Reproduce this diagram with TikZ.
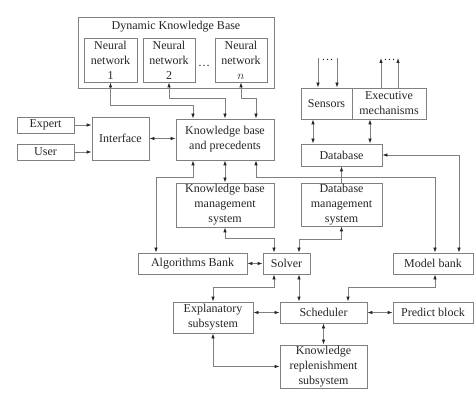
\documentclass[tikz,border=0pt]{standalone}
\usepackage{fontspec}
\setmainfont{Liberation Serif}
\usetikzlibrary{arrows.meta,positioning}
\definecolor{linegray}{RGB}{128,128,128}
\tikzset{
  block/.style={draw=linegray, line width=0.8pt, fill=white, align=center, inner sep=0pt,
    text=black!85, font=\fontsize{12}{15}\selectfont},
  link/.style={draw=linegray, line width=0.8pt},
}

\begin{document}
\begin{tikzpicture}[x=1pt,y=-1pt,>={Latex[length=5pt,width=3.5pt,color=black!85]}]
\useasboundingbox (0,0) rectangle (474,406);
% dynamic knowledge base
\node[block, minimum width=196pt, minimum height=71pt] (dkb) at (176,52.5) {};
\node[block, draw=none, fill=none] (dkbtitle) at (176,27) {Dynamic Knowledge Base};
\node[block, minimum width=53pt, minimum height=44pt] (nn1) at (110.5,60) {Neural\\network\\1};
\node[block, minimum width=52pt, minimum height=44pt] (nn2) at (169,60) {Neural\\network\\2};
\node[block, minimum width=52pt, minimum height=44pt] (nnn) at (241,60) {Neural\\network\\$n$};
\node[block, draw=none, fill=none] (nndots) at (204,66) {\ldots};
% left part
\node[block, minimum width=57pt, minimum height=16pt] (expert) at (45.5,125) {Expert};
\node[block, minimum width=57pt, minimum height=16pt] (user) at (45.5,152) {User};
\node[block, minimum width=57pt, minimum height=43pt] (interface) at (120.5,138.5) {Interface};
\node[block, minimum width=98pt, minimum height=41pt] (kbp) at (225,139.5) {Knowledge base\\and precedents};
\node[block, minimum width=98pt, minimum height=44pt] (kbms) at (225,205) {Knowledge base\\management\\system};
% right part
\node[block, minimum width=51pt, minimum height=31pt] (sensors) at (326.5,103.5) {Sensors};
\node[block, minimum width=74pt, minimum height=31pt] (exec) at (389,103.5) {Executive\\mechanisms};
\node[block, minimum width=81pt, minimum height=22pt] (db) at (341.5,155) {Database};
\node[block, minimum width=81pt, minimum height=43pt] (dbms) at (341.5,204.5) {Database\\management\\system};
% lower part
\node[block, minimum width=109pt, minimum height=21pt] (ab) at (192.5,263.5) {Algorithms Bank};
\node[block, minimum width=47pt, minimum height=21pt] (solver) at (286.5,263.5) {Solver};
\node[block, minimum width=80pt, minimum height=21pt] (mb) at (433,263.5) {Model bank};
\node[block, minimum width=80pt, minimum height=31pt] (expl) at (213,317.5) {Explanatory\\subsystem};
\node[block, minimum width=87pt, minimum height=21pt] (sched) at (323.5,312.5) {Scheduler};
\node[block, minimum width=80pt, minimum height=21pt] (pb) at (433,312.5) {Predict block};
\node[block, minimum width=87pt, minimum height=43pt] (krs) at (323.5,366.5) {Knowledge\\replenishment\\subsystem};
% sensor inputs and executive outputs
\coordinate (sin1) at (318,58);
\coordinate (sin2) at (337,58);
\coordinate (eout1) at (381,58);
\coordinate (eout2) at (398,58);
\node[block, draw=none, fill=none] (sdots) at (327.5,60) {\ldots};
\node[block, draw=none, fill=none] (edots) at (389.5,60) {\ldots};

% connectors
\draw[link,<->] (nn1.south) -- ++(0,23) -| ([xshift=-32pt]kbp.north);
\draw[link,<->] (nn2.south) -- ++(0,16) -| (kbp.north);
\draw[link,<->] (nnn.south) -- ++(0,16) -| ([xshift=31pt]kbp.north);
\draw[link,->] (expert.east) -- (expert.east -| interface.west);
\draw[link,->] (user.east) -- (user.east -| interface.west);
\draw[link,<->] (interface.east) -- (interface.east -| kbp.west);
\draw[link,<->] (kbp.south) -- (kbms.north);
\draw[link,<->] ([xshift=-36.5pt]ab.north) -- ++(0,-75) -| ([xshift=-32pt]kbp.south);
\draw[link,<->] ([xshift=31pt]kbp.south) -- ++(0,17) -| ([xshift=2pt]mb.north);
\draw[link,<->] (db.east) -| ([xshift=26pt]mb.north);
\draw[link,->] (dbms.north) -- (db.south);
\draw[link,<->] ([xshift=-13.5pt]sensors.south) -- ([xshift=-28.5pt]db.north);
\draw[link,<->] ([xshift=-19pt]exec.south) -- ([xshift=28.5pt]db.north);
\draw[link,->] (sin1) -- (sin1 |- sensors.north);
\draw[link,->] (sin2) -- (sin2 |- sensors.north);
\draw[link,->] (eout1 |- exec.north) -- (eout1);
\draw[link,->] (eout2 |- exec.north) -- (eout2);
\draw[link,<->] (kbms.south) -- ++(0,11) -| ([xshift=-12.5pt]solver.north);
\draw[link,<->] (dbms.south) -- ++(0,13) -| ([xshift=12.5pt]solver.north);
\draw[link,<->] (ab.east) -- (solver.west);
\draw[link,<->] ([xshift=-12.5pt]solver.south) -- ++(0,13) -| (expl.north);
\draw[link,<->] ([xshift=12.5pt]solver.south) -- ([xshift=-24.5pt]sched.north);
\draw[link,<->] ([xshift=2pt]mb.south) -- ++(0,13) -| ([xshift=24.5pt]sched.north);
\draw[link,<->] (sched.west -| expl.east) -- (sched.west);
\draw[link,<->] (sched.east) -- (pb.west);
\draw[link,<->] (sched.south) -- (krs.north);
\draw[link,<->] (expl.south) |- (krs.west);
\end{tikzpicture}
\end{document}
